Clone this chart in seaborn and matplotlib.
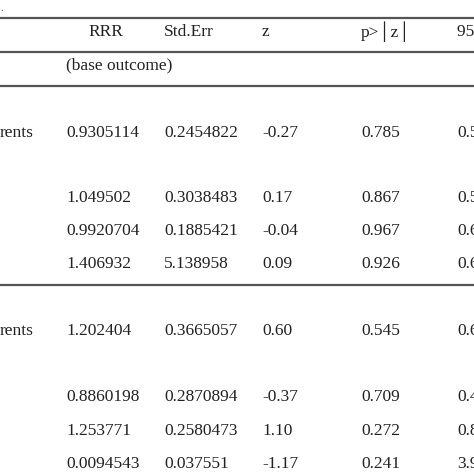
import matplotlib
matplotlib.use("Agg")
import matplotlib.pyplot as plt
import seaborn as sns

sns.set_theme(style="white")
plt.rcParams['font.family'] = ['Liberation Serif', 'DejaVu Serif']

headers = ["RRR", "Std.Err", "z", "p>\u2502z\u2502", "95% Conf. Interval"]
row_labels = ["", "rents", "", "", "", "rents", "", "", ""]
rrr = ["(base outcome)", "0.9305114", "1.049502", "0.9920704", "1.406932",
       "1.202404", "0.8860198", "1.253771", "0.0094543"]
stderr = ["", "0.2454822", "0.3038483", "0.1885421", "5.138958",
          "0.3665057", "0.2870894", "0.2580473", "0.037551"]
zvals = ["", "-0.27", "0.17", "-0.04", "0.09", "0.60", "-0.37", "1.10", "-1.17"]
pvals = ["", "0.785", "0.867", "0.967", "0.926", "0.545", "0.709", "0.272", "0.241"]
ci_low = ["", "0.5548", "0.5950", "0.6836", "0.6012", "0.6612", "0.4695", "0.8376", "3.9e-06"]

row_y = [65, 133, 198, 231, 264, 331, 397, 431, 464]
col_x = [66, 164, 262, 361, 457]
rule_y = [17.5, 52, 86, 285]

fig = plt.figure(figsize=(4.74, 4.74), dpi=100)
ax = fig.add_axes([0, 0, 1, 1])
ax.set_xlim(0, 474)
ax.set_ylim(474, 0)
ax.axis("off")

fs = 12.5
ax.text(0, 8, ".", fontsize=8, color="#666", va="center")
ax.text(106, 32, headers[0], fontsize=fs, ha="center", va="center", color="#222")
ax.text(col_x[1], 32, headers[1], fontsize=fs, va="center", color="#222")
ax.text(col_x[2], 32, headers[2], fontsize=fs, va="center", color="#222")
ax.text(col_x[3], 32, headers[3], fontsize=fs, va="center", color="#222")
ax.text(col_x[4], 32, headers[4], fontsize=fs, va="center", color="#222")

for i, y in enumerate(row_y):
    if row_labels[i]:
        ax.text(0, y, row_labels[i], fontsize=fs, va="center", color="#222")
    for x, col in zip(col_x, [rrr, stderr, zvals, pvals, ci_low]):
        if col[i]:
            ax.text(x, y, col[i], fontsize=fs, va="center", color="#222")

for y in rule_y:
    ax.axhline(y, color="#555", lw=1.6)

fig.savefig("out.png", dpi=100)
